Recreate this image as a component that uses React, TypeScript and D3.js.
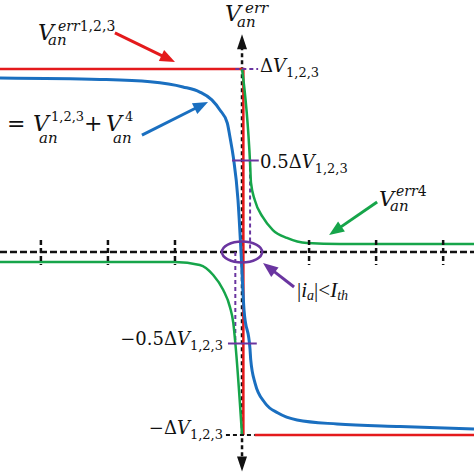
import * as d3 from 'd3';

const W = 474;
const H = 474;

// data units: x = phase current (tick = 1), y = error voltage in units of ΔV1,2,3
const X_DOMAIN = [-3.61, 3.46];
const Y_DOMAIN = [1, -1];
const X_TICKS = [-3, -2, -1, 1, 2, 3];
const Y_AXIS_EXTENT = [1.19, -1.2];

const RED_TOP: [number, number][] = [[-3.61, 1], [0.02, 1], [0.02, -1]];
const RED_BOTTOM: [number, number][] = [[0.19, -1], [3.46, -1]];

const GREEN_LEFT: [number, number][] = [
  [-3.61, -0.055], [-1.0, -0.055], [-0.63, -0.071], [-0.43, -0.126], [-0.28, -0.208],
  [-0.18, -0.301], [-0.13, -0.388], [-0.1, -0.497], [0, -1],
];
const GREEN_RIGHT: [number, number][] = [
  [0, 1], [0.12, 0.486], [0.134, 0.377], [0.19, 0.284], [0.31, 0.19], [0.46, 0.12],
  [0.67, 0.077], [0.97, 0.049], [1.46, 0.044], [3.46, 0.044],
];
const BLUE: [number, number][] = [
  [-3.61, 0.951], [-2.12, 0.943], [-1.37, 0.93], [-0.88, 0.902], [-0.63, 0.874],
  [-0.45, 0.831], [-0.33, 0.776], [-0.22, 0.705], [-0.18, 0.628], [-0.13, 0.519],
  [-0.06, 0.284], [-0.015, 0], [0.03, -0.317], [0.119, -0.53], [0.13, -0.59],
  [0.194, -0.716], [0.343, -0.825], [0.537, -0.88], [0.821, -0.918], [1.418, -0.94],
  [2.358, -0.954], [3.46, -0.967],
];

// short level markers next to the vertical axis
const LEVEL_MARKS = [
  { v: 1, from: -0.1, to: 0.24, color: 'purple', dash: '4 3' },
  { v: 0.5, from: -0.15, to: 0.25, color: 'purple', dash: '' },
  { v: -0.5, from: -0.21, to: 0.22, color: 'purple', dash: '' },
  { v: -1, from: -0.24, to: 0.19, color: 'black', dash: '4 3' },
];
const DROP_LINES = [
  { x: 0.12, from: 0.5, to: 0 },
  { x: -0.1, from: 0, to: -0.5 },
];

const ARROWS = [
  { from: [-1.896, 1.197], to: [-1.0, 1.038], color: 'red' },
  { from: [-1.493, 0.639], to: [-0.507, 0.82], color: 'blue' },
  { from: [2.015, 0.273], to: [1.299, 0.093], color: 'green' },
  { from: [0.776, -0.191], to: [0.313, -0.06], color: 'purple' },
];

const COLORS: Record<string, string> = {
  red: '#e41a1c',
  blue: '#1a6fc0',
  green: '#16a54a',
  purple: '#6a35a0',
  black: '#111',
};

const MATH = '"DejaVu Serif", serif';
const TIMES = '"Liberation Serif", serif';

function Arrow({ x1, y1, x2, y2, color }: { x1: number; y1: number; x2: number; y2: number; color: string }) {
  const a = Math.atan2(y2 - y1, x2 - x1);
  const len = 15;
  const half = 6;
  const bx = x2 - len * Math.cos(a);
  const by = y2 - len * Math.sin(a);
  const px = -Math.sin(a) * half;
  const py = Math.cos(a) * half;
  return (
    <g>
      <line x1={x1} y1={y1} x2={bx + 2 * Math.cos(a)} y2={by + 2 * Math.sin(a)} stroke={color} strokeWidth={3} />
      <path d={`M${x2},${y2}L${bx + px},${by + py}L${bx - px},${by - py}Z`} fill={color} />
    </g>
  );
}

export default function App() {
  const x = d3.scaleLinear().domain(X_DOMAIN).range([0, W]);
  const y = d3.scaleLinear().domain(Y_DOMAIN).range([69, 435]);

  const straight = d3.line<[number, number]>().x(d => x(d[0])).y(d => y(d[1]));
  const smooth = d3.line<[number, number]>().x(d => x(d[0])).y(d => y(d[1])).curve(d3.curveMonotoneX);

  const x0 = x(0);
  const y0 = y(0);
  const yTop = y(Y_AXIS_EXTENT[0]);
  const yBot = y(Y_AXIS_EXTENT[1]);

  return (
    <svg width={W} height={H} style={{ position: 'absolute', left: 0, top: 0, background: '#fff' }}>
      {/* vertical axis */}
      <line x1={x0} x2={x0} y1={yTop + 12} y2={yBot - 12} stroke={COLORS.black} strokeWidth={2.5} strokeDasharray="4 3" />
      <path d={`M${x0},${yTop}L${x0 - 5},${yTop + 15}L${x0 + 5},${yTop + 15}Z`} fill={COLORS.black} />
      <path d={`M${x0},${yBot}L${x0 - 5},${yBot - 15}L${x0 + 5},${yBot - 15}Z`} fill={COLORS.black} />

      {/* horizontal axis */}
      <line x1={0} x2={W} y1={y0} y2={y0} stroke={COLORS.black} strokeWidth={2.5} strokeDasharray="7 3" />

      {/* drop lines */}
      {DROP_LINES.map((d, i) => (
        <line key={i} x1={x(d.x)} x2={x(d.x)} y1={y(d.from)} y2={y(d.to)} stroke={COLORS.purple} strokeWidth={2} strokeDasharray="4 3" />
      ))}

      {/* curves */}
      <path d={straight(RED_TOP) ?? ''} fill="none" stroke={COLORS.red} strokeWidth={2.5} />
      <path d={straight(RED_BOTTOM) ?? ''} fill="none" stroke={COLORS.red} strokeWidth={2.5} />
      <path d={smooth(GREEN_LEFT) ?? ''} fill="none" stroke={COLORS.green} strokeWidth={2.5} />
      <path d={smooth(GREEN_RIGHT) ?? ''} fill="none" stroke={COLORS.green} strokeWidth={2.5} />
      <path d={smooth(BLUE) ?? ''} fill="none" stroke={COLORS.blue} strokeWidth={3} />

      {/* level marks */}
      {LEVEL_MARKS.map((m, i) => (
        <line key={i} x1={x(m.from)} x2={x(m.to)} y1={y(m.v)} y2={y(m.v)} stroke={COLORS[m.color]} strokeWidth={2} strokeDasharray={m.dash || undefined} />
      ))}

      {/* x ticks */}
      {X_TICKS.map(t => (
        <line key={t} x1={x(t)} x2={x(t)} y1={y0 - 12} y2={y0 + 13} stroke={COLORS.black} strokeWidth={2.5} strokeDasharray="5 3" />
      ))}

      {/* threshold ellipse */}
      <ellipse cx={x0} cy={y0} rx={x(0.3) - x0} ry={y(-0.057) - y0} fill="none" stroke={COLORS.purple} strokeWidth={2.5} />

      {ARROWS.map((a, i) => (
        <Arrow key={i} x1={x(a.from[0])} y1={y(a.from[1])} x2={x(a.to[0])} y2={y(a.to[1])} color={COLORS[a.color]} />
      ))}

      <g fontFamily={MATH} fill="#111">
        {/* V_an^err (axis title) */}
        <text x={225} y={21} fontSize={22} fontStyle="italic">V</text>
        <text x={245} y={13} fontSize={15} fontStyle="italic">err</text>
        <text x={237} y={27} fontSize={15} fontStyle="italic">an</text>

        {/* V_an^err1,2,3 */}
        <text x={38} y={40} fontSize={22} fontStyle="italic">V</text>
        <text x={58} y={31} fontSize={14}><tspan fontStyle="italic">err</tspan>1,2,3</text>
        <text x={48} y={45} fontSize={15} fontStyle="italic">an</text>

        {/* = V_an^1,2,3 + V_an^4 */}
        <text x={7} y={131} fontSize={22}>=</text>
        <text x={33} y={131} fontSize={22} fontStyle="italic">V</text>
        <text x={51} y={121} fontSize={13}>1,2,3</text>
        <text x={39} y={143} fontSize={15} fontStyle="italic">an</text>
        <text x={84} y={131} fontSize={22}>+</text>
        <text x={106} y={131} fontSize={22} fontStyle="italic">V</text>
        <text x={125} y={121} fontSize={13}>4</text>
        <text x={113} y={143} fontSize={15} fontStyle="italic">an</text>

        {/* V_an^err4 */}
        <text x={379} y={206} fontSize={21} fontStyle="italic">V</text>
        <text x={396} y={196} fontSize={14}><tspan fontStyle="italic">err</tspan>4</text>
        <text x={390} y={211} fontSize={15} fontStyle="italic">an</text>

        {/* level labels */}
        <text x={260} y={72} fontSize={18}>Δ<tspan fontStyle="italic">V</tspan><tspan fontSize={13} dy={5}>1,2,3</tspan></text>
        <text x={260} y={168} fontSize={18}>0.5Δ<tspan fontStyle="italic">V</tspan><tspan fontSize={13} dy={5}>1,2,3</tspan></text>
        <text x={223} y={345} fontSize={18} textAnchor="end">−0.5Δ<tspan fontStyle="italic">V</tspan><tspan fontSize={13} dy={5}>1,2,3</tspan></text>
        <text x={223} y={434} fontSize={18} textAnchor="end">−Δ<tspan fontStyle="italic">V</tspan><tspan fontSize={13} dy={5}>1,2,3</tspan></text>
      </g>

      {/* |i_a| < I_th */}
      <text x={297} y={297} fontFamily={TIMES} fontSize={21} fill="#111">
        |<tspan fontStyle="italic">i</tspan><tspan fontStyle="italic" fontSize={14} dy={3}>a</tspan><tspan dy={-3}>|&lt;</tspan><tspan fontStyle="italic">I</tspan><tspan fontStyle="italic" fontSize={14} dy={3}>th</tspan>
      </text>
    </svg>
  );
}
